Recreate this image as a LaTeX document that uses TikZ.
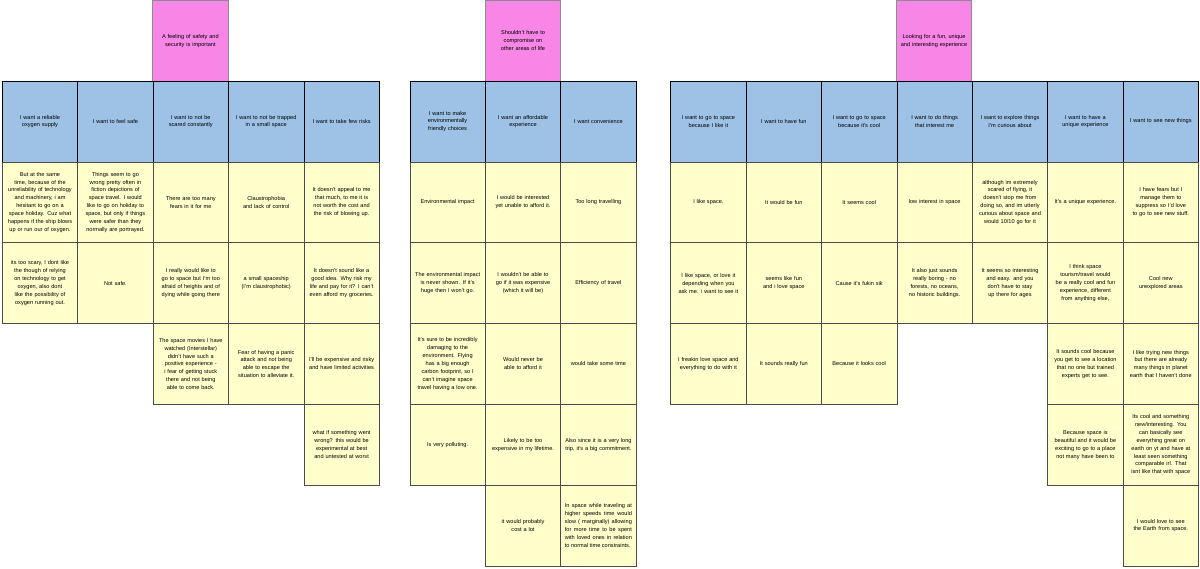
\documentclass[tikz,border=0pt]{standalone}
\usepackage{fontspec}
\setmainfont{Liberation Sans}
\definecolor{pk}{RGB}{247,134,230}
\definecolor{bl}{RGB}{157,194,230}
\definecolor{yl}{RGB}{255,255,204}
\hyphenpenalty=10000
\exhyphenpenalty=10000
\begin{document}
\begin{tikzpicture}[x=1pt,y=-1pt,
  cellst/.style={draw=black!80,line width=0.6pt,anchor=north west,minimum width=75.4pt,minimum height=80.8pt,inner sep=0pt,align=center,text width=67pt,font=\fontsize{5.6}{7.9}\selectfont},
  pinkst/.style={cellst,fill=pk,draw=black!45},
  bluest/.style={cellst,fill=bl,draw=black},
  yelst/.style={cellst,fill=yl,draw=black!70}]
\useasboundingbox (0,0) rectangle (1200,568);
\newcommand\C[5]{\node[#4] (#1) at (#2,{80.8*#3}) {#5};}
% group 1
\C{p1}{152.4}{0}{pinkst}{A feeling of safety and security is important}
\C{a1}{2}{1}{bluest}{I want a reliable oxygen supply}
\C{a2}{77.4}{1}{bluest}{I want to feel safe}
\C{a3}{152.8}{1}{bluest}{I want to not be scared constantly}
\C{a4}{228.2}{1}{bluest}{I want to not be trapped in a small space}
\C{a5}{303.6}{1}{bluest}{I want to take few risks}
\C{a1r1}{2}{2}{yelst}{But at the same time, because of the unreliability of technology and machinery, i am hesitant to go on a space holiday. Cuz what happens if the ship blows up or run our of oxygen.}
\C{a2r1}{77.4}{2}{yelst}{Things seem to go wrong pretty often in fiction depictions of space travel. I would like to go on holiday to space, but only if things were safer than they normally are portrayed.}
\C{a3r1}{152.8}{2}{yelst}{There are too many fears in it for me}
\C{a4r1}{228.2}{2}{yelst}{Claustrophobia and lack of control}
\C{a5r1}{303.6}{2}{yelst}{It doesn't appeal to me that much, to me it is not worth the cost and the risk of blowing up.}
\C{a1r2}{2}{3}{yelst}{its too scary, I dont like the though of relying on technology to get oxygen, also dont like the possibility of oxygen running out.}
\C{a2r2}{77.4}{3}{yelst}{Not safe.}
\C{a3r2}{152.8}{3}{yelst}{I really would like to go to space but I'm too afraid of heights and of dying while going there}
\C{a4r2}{228.2}{3}{yelst}{a small spaceship (I'm claustrophobic)}
\C{a5r2}{303.6}{3}{yelst}{It doesn't sound like a good idea. Why risk my life and pay for it? I can't even afford my groceries.}
\C{a3r3}{152.8}{4}{yelst}{The space movies I have watched (Interstellar) didn't have such a positive experience - i fear of getting stuck there and not being able to come back.}
\C{a4r3}{228.2}{4}{yelst}{Fear of having a panic attack and not being able to escape the situation to alleviate it.}
\C{a5r3}{303.6}{4}{yelst}{I'll be expensive and risky and have limited activities}
\C{a5r4}{303.6}{5}{yelst}{what if something went wrong? this would be experimental at best and untested at worst}
% group 2
\C{p2}{485}{0}{pinkst}{Shouldn't have to compromise on other areas of life}
\C{b1}{409.6}{1}{bluest}{I want to make environmentally friendly choices}
\C{b2}{485}{1}{bluest}{I want an affordable experience}
\C{b3}{560.4}{1}{bluest}{I want convenience}
\C{b1r1}{409.6}{2}{yelst}{Environmental impact}
\C{b2r1}{485}{2}{yelst}{I would be interested yet unable to afford it.}
\C{b3r1}{560.4}{2}{yelst}{Too long travelling}
\C{b1r2}{409.6}{3}{yelst}{The environmental impact is never shown. If it's huge then I won't go.}
\C{b2r2}{485}{3}{yelst}{I wouldn't be able to go if it was expensive (which it will be)}
\C{b3r2}{560.4}{3}{yelst}{Efficiency of travel}
\C{b1r3}{409.6}{4}{yelst}{It's sure to be incredibly damaging to the environment. Flying has a big enough carbon footprint, so I can't imagine space travel having a low one.}
\C{b2r3}{485}{4}{yelst}{Would never be able to afford it}
\C{b3r3}{560.4}{4}{yelst}{would take some time}
\C{b1r4}{409.6}{5}{yelst}{Is very polluting.}
\C{b2r4}{485}{5}{yelst}{Likely to be too expensive in my lifetime.}
\C{b3r4}{560.4}{5}{yelst}{Also since it is a very long trip, it's a big commitment.}
\C{b2r5}{485}{6}{yelst}{it would probably cost a lot}
\node[yelst,align=justify] (b3r5) at (560.4,{80.8*6}) {In space while traveling at higher speeds time would slow ( marginally) allowing for more time to be spent with loved ones in relation to normal time constraints.};
% group 3
\C{p3}{896}{0}{pinkst}{Looking for a fun, unique and interesting experience}
\C{c1}{670.4}{1}{bluest}{I want to go to space because I like it}
\C{c2}{745.8}{1}{bluest}{I want to have fun}
\C{c3}{821.2}{1}{bluest}{I want to go to space because it's cool}
\C{c4}{896.6}{1}{bluest}{I want to do things that interest me}
\C{c5}{972}{1}{bluest}{I want to explore things I'm curious about}
\C{c6}{1047.4}{1}{bluest}{I want to have a unique experience}
\C{c7}{1122.8}{1}{bluest}{I want to see new things}
\C{c1r1}{670.4}{2}{yelst}{I like space.}
\C{c2r1}{745.8}{2}{yelst}{It would be fun}
\C{c3r1}{821.2}{2}{yelst}{It seems cool}
\C{c4r1}{896.6}{2}{yelst}{low interest in space}
\C{c5r1}{972}{2}{yelst}{although im extremely scared of flying, it doesn't stop me from doing so, and im utterly curious about space and would 10/10 go for it}
\C{c6r1}{1047.4}{2}{yelst}{It's a unique experience.}
\C{c7r1}{1122.8}{2}{yelst}{I have fears but I manage them to suppress so I'd love to go to see new stuff.}
\C{c1r2}{670.4}{3}{yelst}{I like space, or love it depending when you ask me. i want to see it}
\C{c2r2}{745.8}{3}{yelst}{seems like fun and i love space}
\C{c3r2}{821.2}{3}{yelst}{Cause it's fukin sik}
\C{c4r2}{896.6}{3}{yelst}{It also just sounds really boring - no forests, no oceans, no historic buildings.}
\C{c5r2}{972}{3}{yelst}{It seems so interesting and easy. and you don't have to stay up there for ages}
\C{c6r2}{1047.4}{3}{yelst}{I think space tourism/travel would be a really cool and fun experience, different from anything else,}
\C{c7r2}{1122.8}{3}{yelst}{Cool new unexplored areas}
\C{c1r3}{670.4}{4}{yelst}{I freakin love space and everything to do with it}
\C{c2r3}{745.8}{4}{yelst}{It sounds really fun}
\C{c3r3}{821.2}{4}{yelst}{Because it looks cool}
\C{c6r3}{1047.4}{4}{yelst}{It sounds cool because you get to see a location that no one but trained experts get to see.}
\C{c7r3}{1122.8}{4}{yelst}{I like trying new things but there are already many things in planet earth that I haven't done}
\C{c6r4}{1047.4}{5}{yelst}{Because space is beautiful and it would be exciting to go to a place not many have been to}
\C{c7r4}{1122.8}{5}{yelst}{Its cool and something new/interesting. You can basically see everything great on earth on yt and have at least seen something comparable irl. That isnt like that with space}
\C{c7r5}{1122.8}{6}{yelst}{I would love to see the Earth from space.}
\end{tikzpicture}
\end{document}
